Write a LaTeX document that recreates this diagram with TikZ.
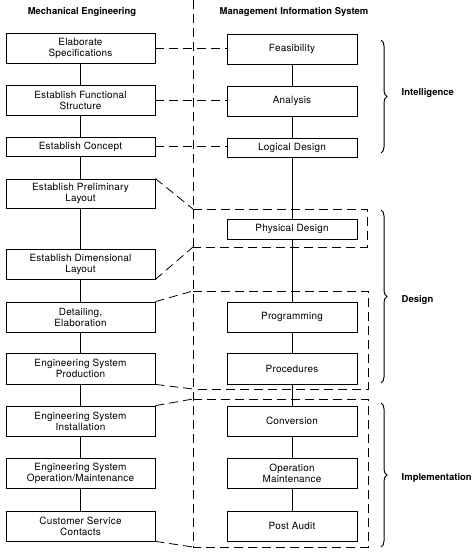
\documentclass[tikz,border=0pt]{standalone}
\usepackage{fontspec}
\setmainfont{TeX Gyre Heros}
\newfontfamily\boxfont[LetterSpace=2]{TeX Gyre Heros}
\usepackage{xcolor}
\usepackage{tikz}
\usetikzlibrary{decorations.pathreplacing}

\tikzset{
  mebox/.style={draw, minimum width=149bp, minimum height=30bp, inner sep=0pt,
    align=center, font=\boxfont\fontsize{10}{11}\selectfont},
  misbox/.style={mebox, minimum width=130bp},
  heading/.style={font=\fontsize{9.5}{11}\selectfont\bfseries},
  linkdash/.style={dash pattern=on 9bp off 5bp},
  phasebrace/.style={decorate, decoration={brace, amplitude=6bp}, line width=1bp},
}

\begin{document}
\begin{tikzpicture}[x=1bp, y=-1bp, line width=0.8bp]
    \useasboundingbox (0,0) rectangle (474,552);

    % Column headings
    \node[heading] (mehead) at (82,12) {Mechanical Engineering};
    \node[heading] (mishead) at (294,12) {Management Information System};

    % Mechanical engineering steps
    \foreach \name/\y/\h/\txt in {
        m1/48/30bp/{Elaborate\\Specifications},
        m2/100/30bp/{Establish Functional\\Structure},
        m3/146.5/19bp/{Establish Concept},
        m4/193.5/29bp/{Establish Preliminary\\Layout},
        m5/264/30bp/{Establish Dimensional\\Layout},
        m6/317/30bp/{Detailing,\\Elaboration},
        m7/368.5/31bp/{Engineering System\\Production},
        m8/421/30bp/{Engineering System\\Installation},
        m9/473/30bp/{Engineering System\\Operation/Maintenance},
        m10/526/30bp/{Customer Service\\Contacts}}
        \node[mebox, minimum height=\h] (\name) at (80.5,\y) {\txt};

    % Information system steps
    \foreach \name/\y/\h/\txt in {
        s1/49/30bp/{Feasibility},
        s2/101/30bp/{Analysis},
        s3/147.5/19bp/{Logical Design},
        s4/229/20bp/{Physical Design},
        s5/317/30bp/{Programming},
        s6/368.5/31bp/{Procedures},
        s7/421/30bp/{Conversion},
        s8/473/30bp/{Operation\\Maintenance},
        s9/526/30bp/{Post Audit}}
        \node[misbox, minimum height=\h] (\name) at (292,\y) {\txt};

    % Solid links down each column
    \foreach \i [count=\j from 2] in {1,...,9}
        \draw (m\i) -- (m\j);
    \foreach \i [count=\j from 2] in {1,...,8}
        \draw (s\i) -- (s\j);

    % Dividing line
    \coordinate (divtop) at (193,0);
    \coordinate (divbot) at (193,547);
    \draw[linkdash] (divtop) -- (divbot);

    % Matching steps
    \foreach \i in {1,2,3}
        \draw[linkdash] (m\i.east) -- (m\i.east -| s\i.west);

    % Dashed frames
    \coordinate (pdtl) at (193,209);
    \coordinate (pdbr) at (367,247);
    \coordinate (dstl) at (193,291);
    \coordinate (dsbr) at (368,389);
    \coordinate (imtl) at (193,399);
    \coordinate (imbr) at (368,547);
    \foreach \f in {pd,ds,im}
        \draw[linkdash] (\f tl) -| (\f br) -- (\f br -| \f tl);

    % Frames back to the mechanical steps
    \draw[linkdash] (m4.north east) -- (pdtl);
    \draw[linkdash] (m5.south east) -- (pdtl |- pdbr);
    \draw[linkdash] (m6.north east) -- (dstl);
    \draw[linkdash] (m7.south east) -- (dstl |- dsbr);
    \draw[linkdash] (m8.north east) -- (imtl);
    \draw[linkdash] (m10.south east) -- (imtl |- imbr);

    % Phases
    \draw[phasebrace] (381,40) -- (381,153);
    \draw[phasebrace] (381,210) -- (381,383);
    \draw[phasebrace] (381,403) -- (381,547);
    \node[heading, anchor=west] (intel) at (398,93) {Intelligence};
    \node[heading, anchor=west] (design) at (398,300) {Design};
    \node[heading, anchor=west] (impl) at (398,478) {Implementation};
\end{tikzpicture}
\end{document}
